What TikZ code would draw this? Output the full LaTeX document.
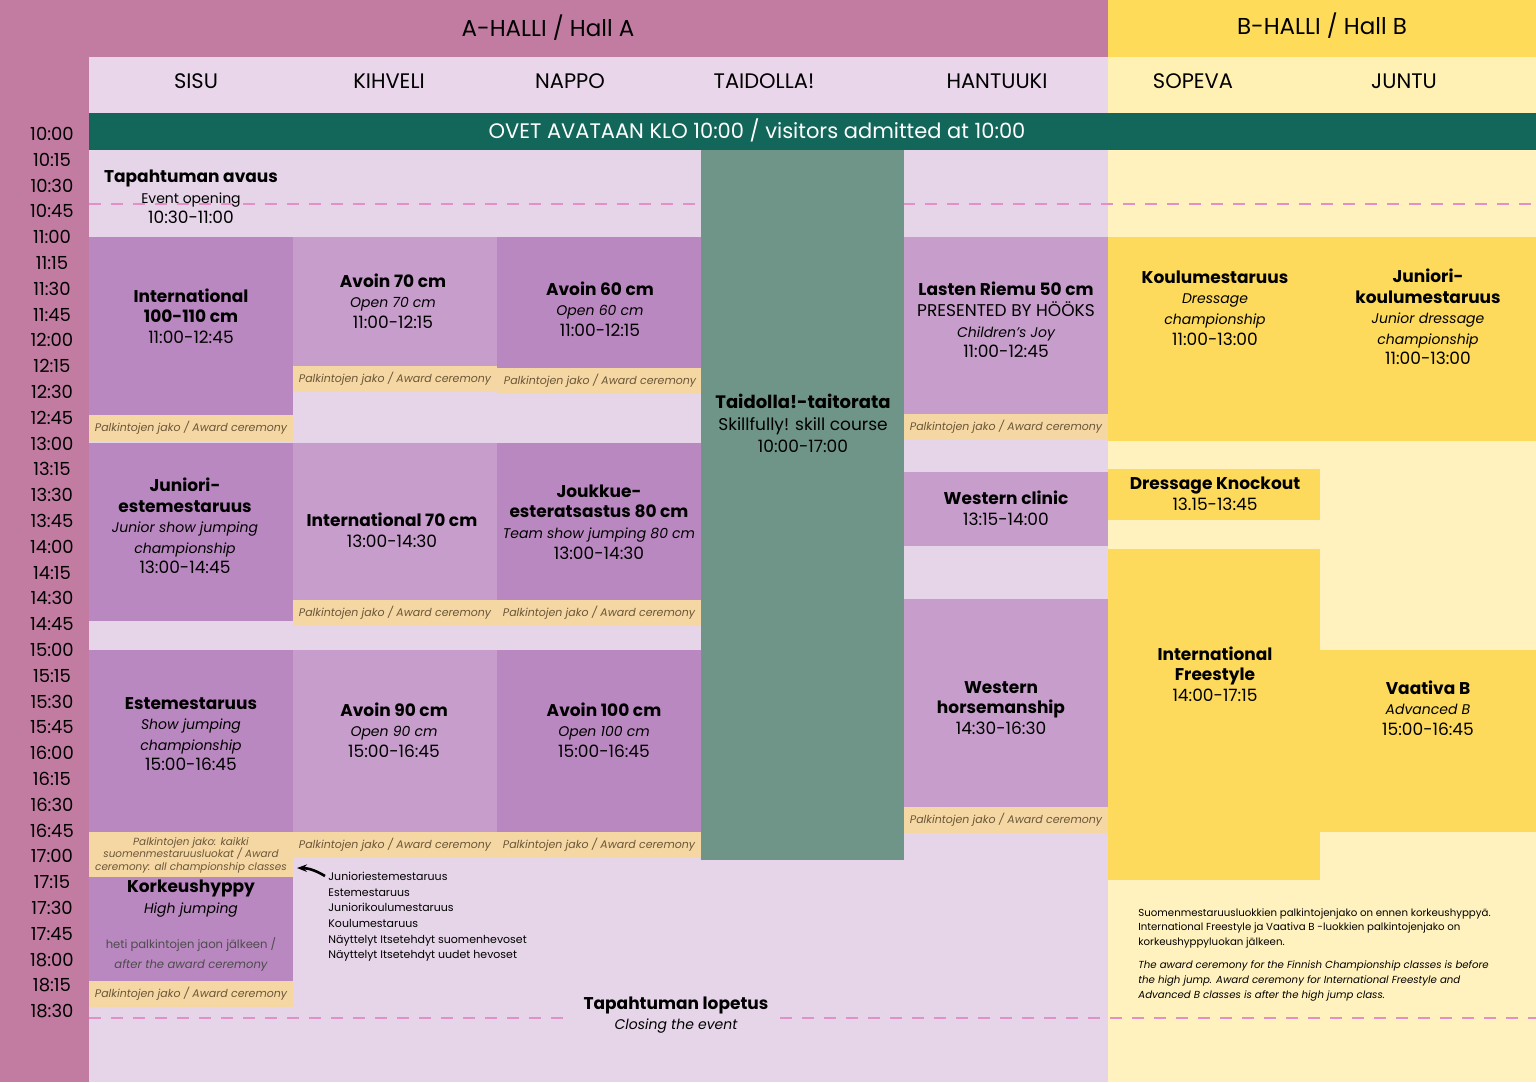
\documentclass[tikz,border=0pt]{standalone}
\usepackage{fontspec}
\setmainfont{Poppins}
\usetikzlibrary{arrows.meta}
\definecolor{hallA}{HTML}{C27CA1}
\definecolor{hallB}{HTML}{FEDB59}
\definecolor{hdrA}{HTML}{E9D6EA}
\definecolor{hdrB}{HTML}{FFF0B4}
\definecolor{bodyA}{HTML}{E6D4E8}
\definecolor{bodyB}{HTML}{FFF2BE}
\definecolor{opengreen}{HTML}{12665A}
\definecolor{purpD}{HTML}{BA88C0}
\definecolor{purpL}{HTML}{C69DCB}
\definecolor{tan}{HTML}{F5D7A4}
\definecolor{teal}{HTML}{6F9488}
\definecolor{yell}{HTML}{FDDA5C}
\definecolor{dashpink}{HTML}{E38FC8}
\definecolor{awardtxt}{HTML}{6A5638}
\tikzset{
  event/.style={align=center, inner sep=0pt, font=\fontsize{8.5}{10.3}\selectfont},
  award/.style={font=\itshape\fontsize{5.5}{6.5}\selectfont, text=awardtxt, align=center, inner sep=0pt},
  colhead/.style={font=\fontsize{10.5}{12}\selectfont},
  note/.style={font=\fontsize{5.5}{7.8}\selectfont, align=left, inner sep=0pt, anchor=north west},
}
\begin{document}
\begin{tikzpicture}[x=0.5pt,y=-0.5pt]
\useasboundingbox (0,0) rectangle (1536,1082);
% backgrounds
\fill[hallA] (0,0) rectangle (1108,1082);
\fill[hallB] (1108,0) rectangle (1536,57);
\fill[hdrA] (89,57) rectangle (1108,113);
\fill[hdrB] (1108,57) rectangle (1536,113);
\fill[bodyA] (89,150) rectangle (1108,1082);
\fill[bodyB] (1108,150) rectangle (1536,1082);
\fill[opengreen] (89,113) rectangle (1536,150);
\draw[dashpink, line width=1pt, dash pattern=on 6pt off 5pt] (89,204) -- (1536,204);
\draw[dashpink, line width=1pt, dash pattern=on 6pt off 5pt] (89,1018) -- (570,1018) (780,1018) -- (1536,1018);

% halls and columns
\node[font=\fontsize{11.5}{13}\selectfont] (hallA) at (548,28) {A-HALLI / Hall A};
\node[font=\fontsize{11.5}{13}\selectfont] (hallB) at (1322,26) {B-HALLI / Hall B};
\node[colhead] (sisu) at (196,81) {SISU};
\node[colhead] (kihveli) at (389,81) {KIHVELI};
\node[colhead] (nappo) at (570,81) {NAPPO};
\node[colhead] (taidolla) at (764,81) {TAIDOLLA!};
\node[colhead] (hantuuki) at (997,81) {HANTUUKI};
\node[colhead] (sopeva) at (1193,81) {SOPEVA};
\node[colhead] (juntu) at (1404,81) {JUNTU};
\node[text=white, font=\fontsize{10.5}{12}\selectfont] (open) at (757,130) {OVET AVATAAN KLO 10:00 / visitors admitted at 10:00};

% time axis
\foreach \t [count=\i from 0] in {10:00,10:15,10:30,10:45,11:00,11:15,11:30,11:45,12:00,12:15,12:30,12:45,13:00,13:15,13:30,13:45,14:00,14:15,14:30,14:45,15:00,15:15,15:30,15:45,16:00,16:15,16:30,16:45,17:00,17:15,17:30,17:45,18:00,18:15,18:30}
  \node[font=\fontsize{9}{10}\selectfont] (t\i) at (52,134+25.8*\i) {\t};

% blocks
\fill[purpD] (89,237) rectangle (293,415);
\fill[tan] (89,415) rectangle (293,441);
\fill[purpL] (293,237) rectangle (497,366);
\fill[tan] (293,366) rectangle (497,392);
\fill[purpD] (497,237) rectangle (701,368);
\fill[tan] (497,368) rectangle (701,394);
\fill[teal] (701,150) rectangle (904,860);
\fill[purpL] (904,237) rectangle (1108,414);
\fill[tan] (904,414) rectangle (1108,440);
\fill[yell] (1108,237) rectangle (1320,441);
\fill[yell] (1320,237) rectangle (1536,441);
\fill[purpD] (89,443) rectangle (293,621);
\fill[purpL] (293,443) rectangle (497,600);
\fill[tan] (293,600) rectangle (497,626);
\fill[purpD] (497,443) rectangle (701,600);
\fill[tan] (497,600) rectangle (701,626);
\fill[purpL] (904,472) rectangle (1108,546);
\fill[yell] (1108,469) rectangle (1320,520);
\fill[yell] (1108,549) rectangle (1320,880);
\fill[yell] (1320,650) rectangle (1536,832);
\fill[purpD] (89,650) rectangle (293,832);
\fill[tan] (89,832) rectangle (293,877);
\fill[purpL] (293,650) rectangle (497,832);
\fill[tan] (293,832) rectangle (497,858);
\fill[purpD] (497,650) rectangle (701,832);
\fill[tan] (497,832) rectangle (701,858);
\fill[purpL] (904,599) rectangle (1108,807);
\fill[tan] (904,807) rectangle (1108,833);
\fill[purpD] (89,877) rectangle (293,981);
\fill[tan] (89,981) rectangle (293,1007);

% event texts
\node[event] (opening) at (191,197) {\bfseries Tapahtuman avaus\\{\fontsize{7}{9}\selectfont Event opening}\\10:30-11:00};
\node[event] (intl) at (191,316) {\bfseries International\\\bfseries 100-110 cm\\11:00-12:45};
\node[event] (avoin70) at (393,301) {\bfseries Avoin 70 cm\\{\itshape\fontsize{7}{9}\selectfont Open 70 cm}\\11:00-12:15};
\node[event] (avoin60) at (600,309) {\bfseries Avoin 60 cm\\{\itshape\fontsize{7}{9}\selectfont Open 60 cm}\\11:00-12:15};
\node[event, font=\fontsize{8.5}{11}\selectfont] (skill) at (803,423) {{\bfseries\fontsize{9}{10}\selectfont Taidolla!-taitorata}\\Skillfully! skill course\\10:00-17:00};
\node[event] (lasten) at (1006,320) {\bfseries Lasten Riemu 50 cm\\PRESENTED BY HÖÖKS\\{\itshape\fontsize{7}{9}\selectfont Children's Joy}\\11:00-12:45};
\node[event] (koulu) at (1215,308) {\bfseries Koulumestaruus\\{\itshape\fontsize{7}{9}\selectfont Dressage}\\{\itshape\fontsize{7}{9}\selectfont championship}\\11:00-13:00};
\node[event] (jkoulu) at (1428,317) {\bfseries Juniori-\\\bfseries koulumestaruus\\{\itshape\fontsize{7}{9}\selectfont Junior dressage}\\{\itshape\fontsize{7}{9}\selectfont championship}\\11:00-13:00};
\node[event] (jeste) at (185,526) {\bfseries Juniori-\\\bfseries estemestaruus\\{\itshape\fontsize{7}{9}\selectfont Junior show jumping}\\{\itshape\fontsize{7}{9}\selectfont championship}\\13:00-14:45};
\node[event] (intl70) at (392,530) {\bfseries International 70 cm\\13:00-14:30};
\node[event] (joukkue) at (599,522) {\bfseries Joukkue-\\\bfseries esteratsastus 80 cm\\{\itshape\fontsize{7}{9}\selectfont Team show jumping 80 cm}\\13:00-14:30};
\node[event] (clinic) at (1006,508) {\bfseries Western clinic\\13:15-14:00};
\node[event] (knockout) at (1215,494) {\bfseries Dressage Knockout\\13.15-13:45};
\node[event] (freestyle) at (1215,674) {\bfseries International\\\bfseries Freestyle\\14:00-17:15};
\node[event] (vaativa) at (1428,708) {\bfseries Vaativa B\\{\itshape\fontsize{7}{9}\selectfont Advanced B}\\15:00-16:45};
\node[event] (horseman) at (1001,708) {\bfseries Western\\\bfseries horsemanship\\14:30-16:30};
\node[event] (este) at (191,734) {\bfseries Estemestaruus\\{\itshape\fontsize{7}{9}\selectfont Show jumping}\\{\itshape\fontsize{7}{9}\selectfont championship}\\15:00-16:45};
\node[event] (avoin90) at (394,730) {\bfseries Avoin 90 cm\\{\itshape\fontsize{7}{9}\selectfont Open 90 cm}\\15:00-16:45};
\node[event] (avoin100) at (604,730) {\bfseries Avoin 100 cm\\{\itshape\fontsize{7}{9}\selectfont Open 100 cm}\\15:00-16:45};
\node[event] (korkeus) at (191,926) {\bfseries Korkeushyppy\\{\itshape\fontsize{7}{9}\selectfont High jumping}\\[7pt]{\fontsize{5.8}{7}\selectfont\color{black!70} heti palkintojen jaon jälkeen /}\\{\itshape\fontsize{5.8}{7}\selectfont\color{black!70} after the award ceremony}};
\node[event] (closing) at (676,1015) {\bfseries Tapahtuman lopetus\\{\itshape\fontsize{7}{9}\selectfont Closing the event}};

% award ceremonies
\node[award] (aw1) at (191,428) {Palkintojen jako / Award ceremony};
\node[award] (aw2) at (395,379) {Palkintojen jako / Award ceremony};
\node[award] (aw3) at (600,381) {Palkintojen jako / Award ceremony};
\node[award] (aw4) at (1006,427) {Palkintojen jako / Award ceremony};
\node[award] (aw5) at (395,613) {Palkintojen jako / Award ceremony};
\node[award] (aw6) at (599,613) {Palkintojen jako / Award ceremony};
\node[award, font=\itshape\fontsize{5.2}{6.3}\selectfont] (aw7) at (191,855) {Palkintojen jako: kaikki\\suomenmestaruusluokat / Award\\ceremony: all championship classes};
\node[award] (aw8) at (395,845) {Palkintojen jako / Award ceremony};
\node[award] (aw9) at (599,845) {Palkintojen jako / Award ceremony};
\node[award] (aw10) at (1006,820) {Palkintojen jako / Award ceremony};
\node[award] (aw11) at (191,994) {Palkintojen jako / Award ceremony};

% notes
\node[note] (classes) at (328,872) {Junioriestemestaruus\\Estemestaruus\\Juniorikoulumestaruus\\Koulumestaruus\\Näyttelyt Itsetehdyt suomenhevoset\\Näyttelyt Itsetehdyt uudet hevoset};
\coordinate (arrtip) at (297,868);
\draw[-{Stealth[length=5pt]}, line width=1.3pt] (classes.north west) ++(-3,4) to[bend right=15] (arrtip);
\node[note, font=\fontsize{5.1}{7.4}\selectfont] (finnote) at (1138,908) {Suomenmestaruusluokkien palkintojenjako on ennen korkeushyppyä.\\International Freestyle ja Vaativa B -luokkien palkintojenjako on\\korkeushyppyluokan jälkeen.\\[4pt]\itshape The award ceremony for the Finnish Championship classes is before\\\itshape the high jump. Award ceremony for International Freestyle and\\\itshape Advanced B classes is after the high jump class.};
\end{tikzpicture}
\end{document}
